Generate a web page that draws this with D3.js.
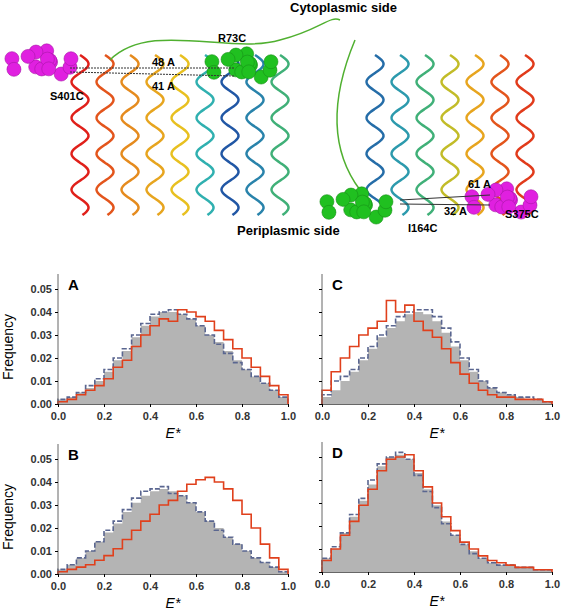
<!DOCTYPE html>
<html><head><meta charset="utf-8">
<script src="https://cdn.jsdelivr.net/npm/d3@7"></script>
<style>body{margin:0;background:#fff}svg{font-family:Arial,"Liberation Sans",sans-serif}</style>
</head><body><svg id="fig" width="567" height="615"></svg>
<script>
// E* bin centres (0.04 wide)
var bins = d3.range(25).map(i => 0.02 + i * 0.04)
var xTicks = [0, 0.2, 0.4, 0.6, 0.8, 1.0]
var yTicks = [0, 0.01, 0.02, 0.03, 0.04, 0.05]

var aGray = [0.002,0.003,0.005,0.007,0.010,0.014,0.019,0.023,0.029,0.034,0.038,0.040,0.040,0.039,0.037,0.034,0.030,0.027,0.023,0.019,0.015,0.012,0.009,0.006,0.003]
var aBlue = [0.002,0.003,0.005,0.008,0.011,0.015,0.020,0.024,0.030,0.035,0.039,0.040,0.041,0.039,0.037,0.034,0.030,0.026,0.022,0.018,0.015,0.012,0.009,0.006,0.003]
var aRed  = [0.001,0.002,0.004,0.006,0.008,0.011,0.016,0.019,0.025,0.030,0.034,0.037,0.036,0.041,0.040,0.038,0.036,0.032,0.028,0.024,0.020,0.016,0.012,0.008,0.004]
var bGray = [0.002,0.004,0.007,0.010,0.014,0.018,0.022,0.027,0.031,0.034,0.036,0.037,0.036,0.034,0.031,0.027,0.023,0.020,0.016,0.013,0.010,0.007,0.005,0.003,0.001]
var bBlue = [0.002,0.004,0.007,0.010,0.014,0.019,0.023,0.028,0.033,0.036,0.037,0.038,0.035,0.034,0.031,0.027,0.023,0.019,0.016,0.013,0.010,0.007,0.005,0.003,0.001]
var bRed  = [0.001,0.002,0.003,0.004,0.006,0.008,0.011,0.015,0.019,0.023,0.026,0.030,0.032,0.036,0.039,0.041,0.042,0.040,0.037,0.032,0.026,0.020,0.013,0.007,0.002]
var cGray = [0.003,0.006,0.010,0.014,0.019,0.024,0.029,0.033,0.036,0.039,0.040,0.039,0.036,0.031,0.025,0.019,0.014,0.010,0.007,0.005,0.004,0.003,0.002,0.002,0.001]
var cBlue = [0.004,0.010,0.012,0.015,0.020,0.025,0.030,0.034,0.038,0.040,0.041,0.041,0.038,0.033,0.027,0.020,0.015,0.010,0.007,0.005,0.004,0.003,0.003,0.002,0.001]
var cRed  = [0.006,0.014,0.020,0.025,0.030,0.033,0.036,0.045,0.040,0.043,0.036,0.032,0.029,0.024,0.018,0.013,0.009,0.006,0.004,0.003,0.003,0.002,0.002,0.002,0.001]
var dGray = [0.006,0.010,0.017,0.024,0.031,0.038,0.046,0.050,0.051,0.049,0.043,0.036,0.029,0.022,0.016,0.012,0.009,0.006,0.004,0.003,0.003,0.002,0.002,0.001,0.001]
var dBlue = [0.006,0.011,0.017,0.025,0.032,0.040,0.047,0.050,0.052,0.049,0.042,0.035,0.028,0.021,0.016,0.012,0.008,0.006,0.004,0.003,0.003,0.002,0.002,0.001,0.001]
var dRed  = [0.005,0.010,0.016,0.022,0.029,0.036,0.044,0.049,0.050,0.051,0.044,0.037,0.030,0.024,0.018,0.013,0.010,0.007,0.005,0.004,0.003,0.002,0.002,0.001,0.001]

var panels = [
  {id: "A", x0: 58, y0: 404, gray: aGray, blue: aBlue, red: aRed, yLabels: true},
  {id: "B", x0: 58, y0: 574, gray: bGray, blue: bBlue, red: bRed, yLabels: true},
  {id: "C", x0: 322, y0: 404, gray: cGray, blue: cBlue, red: cRed, yLabels: false},
  {id: "D", x0: 322, y0: 572, gray: dGray, blue: dBlue, red: dRed, yLabels: false}
]

var svg = d3.select("#fig")

panels.forEach((p) => {
  var x = d3.scaleLinear().domain([0, 1]).range([p.x0, p.x0 + 230])
  var y = d3.scaleLinear().domain([0, 0.05]).range([p.y0, p.y0 - 115])
  var g = svg.append("g")

  var stepPts = (vals) => {
    var pts = [[0, 0]]
    vals.forEach((v, i) => { pts.push([i * 0.04, v]); pts.push([(i + 1) * 0.04, v]) })
    pts.push([1, 0])
    return pts
  }
  var line = d3.line().x(d => x(d[0])).y(d => y(d[1]))
  g.append("path").attr("d", line(stepPts(p.gray)) + "Z").attr("fill", "#b4b4b4")
  g.append("path").attr("d", line(stepPts(p.blue))).attr("fill", "none")
    .attr("stroke", "#5a6690").attr("stroke-width", 1.6).attr("stroke-dasharray", "5,2")
  g.append("path").attr("d", line(stepPts(p.red))).attr("fill", "none")
    .attr("stroke", "#e0401c").attr("stroke-width", 1.6)

  var xa = g.append("g").attr("transform", "translate(0," + p.y0 + ")")
    .call(d3.axisBottom(x).tickValues(xTicks).tickFormat(d3.format(".1f")).tickSize(3))
  xa.select(".domain").attr("stroke", "#666")
  xa.selectAll("text").attr("font-size", 11).attr("fill", "#333").attr("font-weight", "bold").attr("dy", "0.9em")
  var ya = g.append("g").attr("transform", "translate(" + p.x0 + ",0)")
    .call(d3.axisLeft(y).tickValues(yTicks).tickSize(3)
      .tickFormat(p.yLabels ? d3.format(".2f") : ""))
  ya.select(".domain").attr("stroke", "#666").attr("d", "M0," + p.y0 + "V" + (p.y0 - 130))
  ya.selectAll("text").attr("font-size", 11).attr("fill", "#333").attr("font-weight", "bold")

  g.append("text").attr("x", p.x0 + 10).attr("y", p.y0 - 114).text(p.id)
    .attr("font-size", 15).attr("font-weight", "bold")
  g.append("text").attr("x", p.x0 + 115).attr("y", p.y0 + 34).attr("text-anchor", "middle")
    .attr("font-size", 14).attr("font-style", "italic").text("E*")
  if (p.yLabels) {
    g.append("text").attr("transform", "translate(" + (p.x0 - 45) + "," + (p.y0 - 57) + ") rotate(-90)")
      .attr("text-anchor", "middle").attr("font-size", 14).text("Frequency")
  }
})

// ---- top: structure sketch ----
var helixX = [80, 105, 130, 155, 180, 205, 230, 255, 280, 375, 400, 425, 450, 475, 500, 525]
var helixRank = [0, 0.1, 0.2, 0.25, 0.3, 0.7, 0.9, 0.8, 0.6, 0.85, 0.75, 0.6, 0.35, 0.25, 0.1, 0.05]
var colour = d3.scaleLinear().domain([0, 0.3, 0.5, 0.7, 1])
  .range(["#e0201a", "#e8c020", "#50b040", "#30b0b0", "#1a2aa0"])
var mol = svg.append("g")
helixX.forEach((hx, i) => {
  var pts = d3.range(0, 1.001, 0.02).map(t => [hx + 9 * Math.sin(t * 28), 55 + t * 160])
  mol.append("path").attr("d", d3.line().curve(d3.curveBasis)(pts)).attr("fill", "none")
    .attr("stroke", colour(helixRank[i])).attr("stroke-width", 2.5)
})
mol.append("path").attr("d", "M110,60 C150,20 230,55 280,40 C320,30 330,15 340,20")
  .attr("fill", "none").attr("stroke", "#50b030").attr("stroke-width", 1.5)
mol.append("path").attr("d", "M355,40 C330,100 330,150 360,190")
  .attr("fill", "none").attr("stroke", "#50b030").attr("stroke-width", 1.5)

var blobs = [
  {cx: 45, cy: 62, c: "#e020e0"}, {cx: 245, cy: 65, c: "#20c020"},
  {cx: 360, cy: 205, c: "#20c020"}, {cx: 505, cy: 200, c: "#e020e0"}
]
blobs.forEach((b) => {
  d3.range(14).forEach((k) => {
    var a = k * 2.4, r = 4 + (k % 5) * 5
    mol.append("circle").attr("cx", b.cx + r * Math.cos(a) * 1.4).attr("cy", b.cy + r * Math.sin(a) * 0.8)
      .attr("r", 7).attr("fill", b.c).attr("stroke", d3.color(b.c).darker(0.8)).attr("stroke-width", 0.6)
  })
})
mol.append("line").attr("x1", 70).attr("y1", 68).attr("x2", 235).attr("y2", 68).attr("stroke", "#333").attr("stroke-dasharray", "2,1")
mol.append("line").attr("x1", 70).attr("y1", 72).attr("x2", 235).attr("y2", 76).attr("stroke", "#333").attr("stroke-dasharray", "2,1")
mol.append("line").attr("x1", 400).attr("y1", 200).attr("x2", 490).attr("y2", 195).attr("stroke", "#333")
mol.append("line").attr("x1", 400).attr("y1", 204).attr("x2", 490).attr("y2", 205).attr("stroke", "#333")

var labels = [
  ["Cytoplasmic side", 290, 12, 13], ["Periplasmic side", 237, 235, 13],
  ["R73C", 218, 42, 11], ["S401C", 50, 100, 11], ["48 A", 152, 66, 11], ["41 A", 152, 90, 11],
  ["61 A", 468, 188, 11], ["32 A", 444, 215, 11], ["I164C", 408, 232, 11], ["S375C", 505, 218, 11]
]
labels.forEach((l) => {
  mol.append("text").attr("x", l[1]).attr("y", l[2]).attr("font-size", l[3])
    .attr("font-weight", "bold").text(l[0])
})
</script></body></html>
